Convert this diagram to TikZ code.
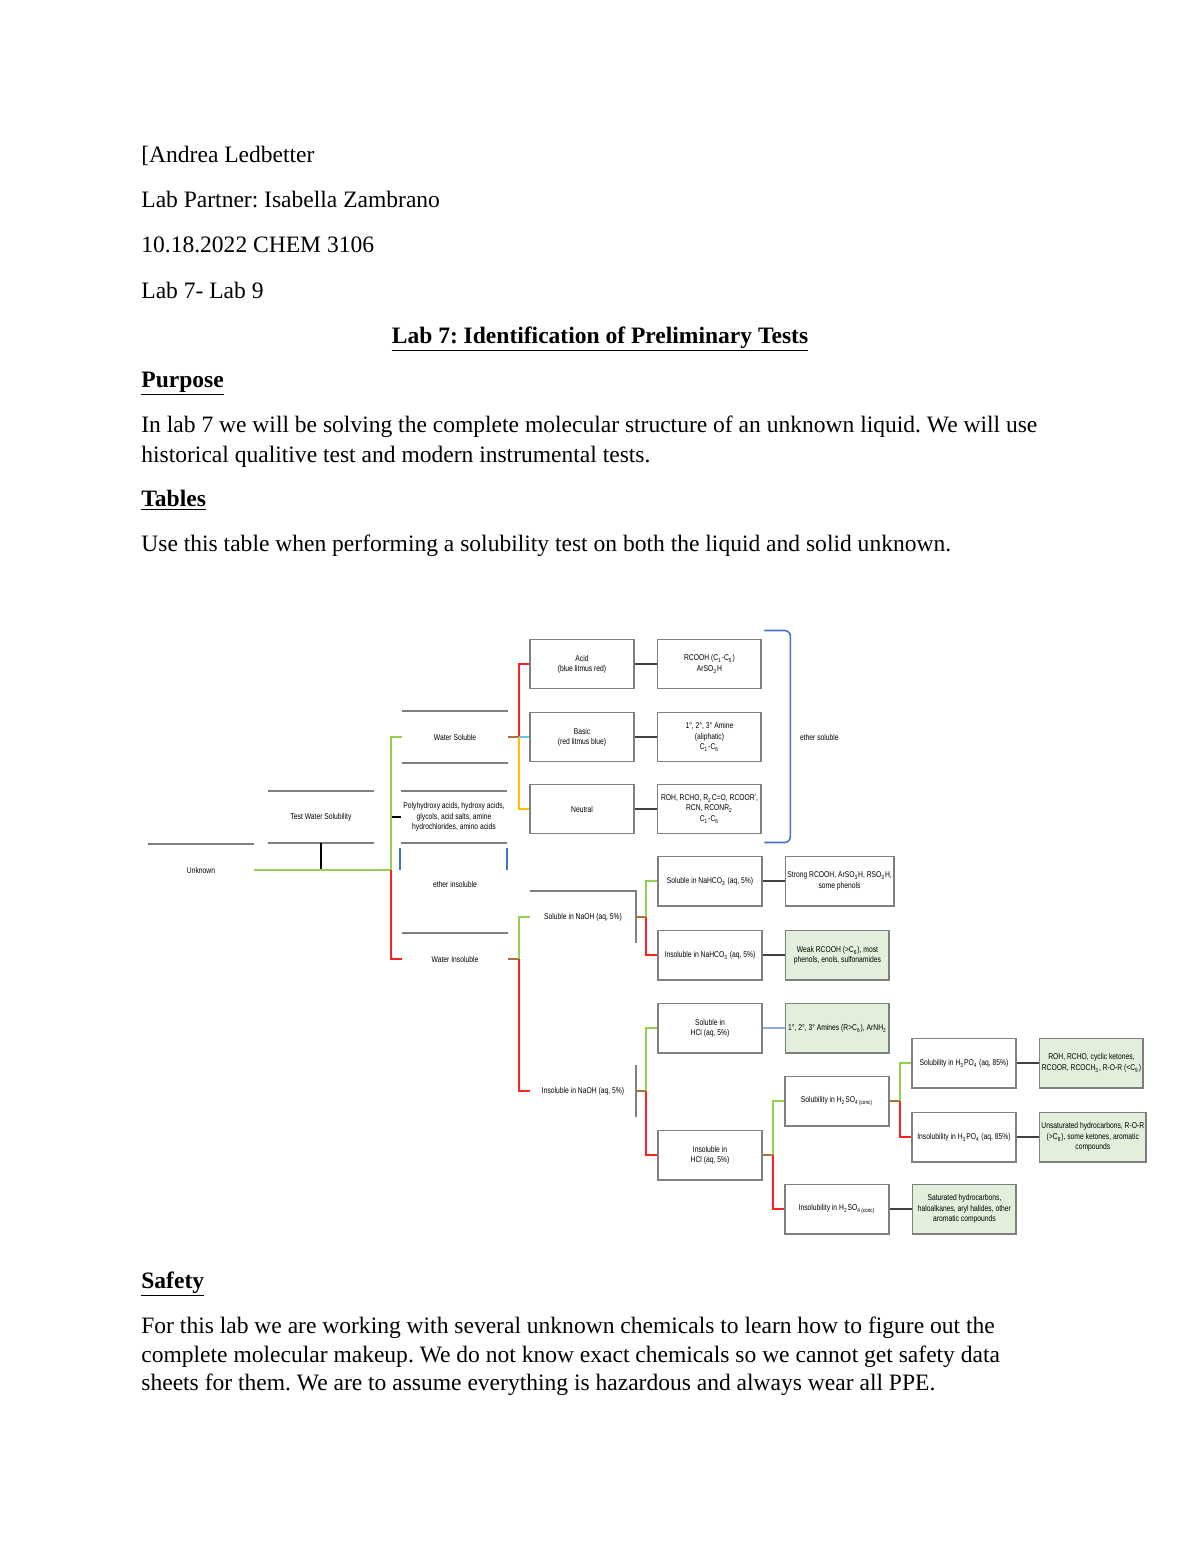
\documentclass[tikz,border=0pt]{standalone}
\usepackage{fontspec}
\setmainfont{Liberation Serif}
\newfontfamily\chartfont[FakeStretch=0.8]{Liberation Sans}
\usetikzlibrary{positioning,calc}
\frenchspacing
\definecolor{Frame}{HTML}{7F7F7F}
\definecolor{Leaf}{HTML}{E2EFDA}
\definecolor{LineGreen}{HTML}{92D050}
\definecolor{LineRed}{HTML}{FF2020}
\definecolor{LineYellow}{HTML}{FFC000}
\definecolor{LineCyan}{HTML}{5BC8F5}
\definecolor{Bracket}{HTML}{4472C4}
\definecolor{LinkBlue}{HTML}{8EA9DB}
\definecolor{Stub}{HTML}{A8743A}
\definecolor{Dark}{HTML}{404040}
\tikzset{
  body/.style={font=\fontsize{12}{14}\selectfont, inner sep=0pt, anchor=base west},
  chart/.style={font=\chartfont\fontsize{4.3}{5.2}\selectfont, align=center, inner sep=1pt},
  testbox/.style={chart, draw=Frame, line width=1pt, fill=white,
                  minimum width=53pt, minimum height=25pt},
  leafbox/.style={testbox, fill=Leaf},
  openbox/.style={chart, minimum width=54pt, minimum height=26pt},
  rule/.style={draw=Frame, line width=1pt},
  soluble/.style={draw=LineGreen, line width=1pt},
  insoluble/.style={draw=LineRed, line width=1pt},
  link/.style={draw=Dark, line width=1pt},
  brace/.style={draw=Bracket, line width=0.8pt},
}
\begin{document}
\begin{tikzpicture}[x=0.51pt, y=-0.51pt, node distance=11pt]
  \useasboundingbox[fill=white] (0,0) rectangle (1200,1553);

  % header and text
  \node[body] (author) at (141,163) {[Andrea Ledbetter};
  \node[body] (partner) at (141,208) {Lab Partner: Isabella Zambrano};
  \node[body] (date) at (141,253) {10.18.2022 CHEM 3106};
  \node[body] (labs) at (141,298) {Lab 7- Lab 9};
  \node[body, anchor=base] (title) at (600,343) {\textbf{\underline{Lab 7: Identification of Preliminary Tests}}};
  \node[body] (purpose) at (141,387) {\textbf{\underline{Purpose}}};
  \node[body] (purp1) at (141,432) {In lab 7 we will be solving the complete molecular structure of an unknown liquid. We will use};
  \node[body] (purp2) at (141,462) {historical qualitive test and modern instrumental tests.};
  \node[body] (tables) at (141,506) {\textbf{\underline{Tables}}};
  \node[body] (tab1) at (141,551) {Use this table when performing a solubility test on both the liquid and solid unknown.};
  \node[body] (safety) at (141,1288) {\textbf{\underline{Safety}}};
  \node[body] (saf1) at (141,1333) {For this lab we are working with several unknown chemicals to learn how to figure out the};
  \node[body] (saf2) at (141,1362) {complete molecular makeup. We do not know exact chemicals so we cannot get safety data};
  \node[body] (saf3) at (141,1390) {sheets for them. We are to assume everything is hazardous and always wear all PPE.};

  % water solubility
  \node[openbox] (unk) at (201,870) {Unknown};
  \node[openbox] (tws) at (321,817) {Test Water Solubility};
  \node[openbox] (ws) at (455,737) {Water Soluble};
  \node[openbox] (poly) at (454,817) {Polyhydroxy acids, hydroxy acids,\\glycols, acid salts, amine\\hydrochlorides, amino acids};
  \node[openbox] (ethi) at (455,884) {ether insoluble};
  \node[openbox] (wi) at (455,959) {Water Insoluble};
  \draw[rule] (unk.north west) -- (unk.north east);
  \draw[rule] (tws.north west) -- (tws.north east) (tws.south west) -- (tws.south east);
  \draw[rule] (ws.north west) -- (ws.north east) (ws.south west) -- (ws.south east);
  \draw[rule] (poly.north west) -- (poly.north east) (poly.south west) -- (poly.south east);
  \draw[rule] (wi.north west) -- (wi.north east);
  \draw[brace] ($(ethi.center)+(-55,-36)$) -- ++(0,22);
  \draw[brace] ($(ethi.center)+(52,-36)$) -- ++(0,22);

  % water soluble
  \node[testbox] (acid) at (582,664) {Acid\\(blue litmus red)};
  \node[testbox] (basic) at (582,737) {Basic\\(red litmus blue)};
  \node[testbox] (neutral) at (582,809) {Neutral};
  \node[testbox, right=of acid] (racid) {RCOOH (C\textsubscript{1}-C\textsubscript{5})\\ArSO\textsubscript{3}H};
  \node[testbox, right=of basic] (rbase) {1°, 2°, 3° Amine\\(aliphatic)\\C\textsubscript{1}-C\textsubscript{6}};
  \node[testbox, right=of neutral] (rneut) {ROH, RCHO, R\textsubscript{2}C=O, RCOOR',\\RCN, RCONR\textsubscript{2}\\C\textsubscript{1}-C\textsubscript{6}};
  \node[chart, right=19pt of rbase, inner sep=0pt] (eths) {ether soluble};
  \draw[brace, rounded corners=3pt] ($(racid.north east)+(2,-8)$) -- ++(26,0) |- ($(rneut.south east)+(2,8)$);

  % water insoluble
  \node[openbox] (snaoh) at (583,917) {Soluble in NaOH (aq, 5\%)};
  \node[openbox] (inaoh) at (583,1091) {Insoluble in NaOH (aq, 5\%)};
  \draw[rule] (snaoh.north west) -- (snaoh.north east) -- (snaoh.south east);
  \draw[rule] (inaoh.north east) -- (inaoh.south east);
  \node[testbox] (sbic) at (710,881) {Soluble in NaHCO\textsubscript{3} (aq, 5\%)};
  \node[testbox] (ibic) at (710,955) {Insoluble in NaHCO\textsubscript{3} (aq, 5\%)};
  \node[testbox, right=of sbic] (rstrong) {Strong RCOOH, ArSO\textsubscript{3}H, RSO\textsubscript{3}H,\\some phenols};
  \node[leafbox, right=of ibic] (rweak) {Weak RCOOH (>C\textsubscript{6}), most\\phenols, enols, sulfonamides};
  \node[testbox] (shcl) at (710,1028) {Soluble in\\HCl (aq, 5\%)};
  \node[leafbox, right=of shcl] (ramine) {1°, 2°, 3° Amines (R>C\textsubscript{6}), ArNH\textsubscript{2}};
  \node[testbox] (ihcl) at (710,1155) {Insoluble in\\HCl (aq, 5\%)};
  \node[testbox] (ssulf) at (837,1101) {Solubility in H\textsubscript{2}SO\textsubscript{4 (conc)}};
  \node[testbox] (isulf) at (837,1209) {Insolubility in H\textsubscript{2}SO\textsubscript{4 (conc)}};
  \node[leafbox, right=of isulf] (rsat) {Saturated hydrocarbons,\\haloalkanes, aryl halides, other\\aromatic compounds};
  \node[testbox] (sphos) at (964,1063) {Solubility in H\textsubscript{3}PO\textsubscript{4} (aq, 85\%)};
  \node[testbox] (iphos) at (964,1137) {Insolubility in H\textsubscript{3}PO\textsubscript{4} (aq, 85\%)};
  \node[leafbox, right=of sphos] (rphos) {ROH, RCHO, cyclic ketones,\\RCOOR, RCOCH\textsubscript{3}, R-O-R (<C\textsubscript{9})};
  \node[leafbox, right=of iphos] (runsat) {Unsaturated hydrocarbons, R-O-R\\(>C\textsubscript{8}), some ketones, aromatic\\compounds};

  % branches
  \coordinate (j1) at ($(unk.east)+(137,0)$);
  \draw[link, draw=black] (tws.south) -- (tws.south |- unk.east);
  \draw[link, draw=black] (j1) |- (poly.west);
  \draw[soluble] (unk.east) -- (j1) |- (ws.west);
  \draw[insoluble] (j1) |- (wi.west);

  \coordinate (j2) at ($(ws.east)+(11,0)$);
  \draw[link, draw=Stub] (ws.east) -- (j2);
  \draw[insoluble] (j2) |- (acid.west);
  \draw[link, draw=LineCyan] (j2) -- (basic.west);
  \draw[link, draw=LineYellow] (j2) |- (neutral.west);

  \coordinate (j3) at ($(wi.east)+(11,0)$);
  \draw[link, draw=Stub] (wi.east) -- (j3);
  \draw[soluble] (j3) |- (snaoh.west);
  \draw[insoluble] (j3) |- (inaoh.west);

  \coordinate (j4) at ($(snaoh.east)+(10,0)$);
  \draw[link, draw=Stub] (snaoh.east) -- (j4);
  \draw[soluble] (j4) |- (sbic.west);
  \draw[insoluble] (j4) |- (ibic.west);

  \coordinate (j5) at ($(inaoh.east)+(10,0)$);
  \draw[link, draw=Stub] (inaoh.east) -- (j5);
  \draw[soluble] (j5) |- (shcl.west);
  \draw[insoluble] (j5) |- (ihcl.west);

  \coordinate (j6) at ($(ihcl.east)+(10,0)$);
  \draw[link, draw=Stub] (ihcl.east) -- (j6);
  \draw[soluble] (j6) |- (ssulf.west);
  \draw[insoluble] (j6) |- (isulf.west);

  \coordinate (j7) at ($(ssulf.east)+(10,0)$);
  \draw[link, draw=Stub] (ssulf.east) -- (j7);
  \draw[soluble] (j7) |- (sphos.west);
  \draw[insoluble] (j7) |- (iphos.west);

  % results
  \draw[link] (acid) -- (racid);
  \draw[link] (basic) -- (rbase);
  \draw[link] (neutral) -- (rneut);
  \draw[link] (sbic) -- (rstrong);
  \draw[link] (ibic) -- (rweak);
  \draw[link, draw=LinkBlue] (shcl) -- (ramine);
  \draw[link] (isulf) -- (rsat);
  \draw[link] (sphos) -- (rphos);
  \draw[link] (iphos) -- (runsat);
\end{tikzpicture}
\end{document}
